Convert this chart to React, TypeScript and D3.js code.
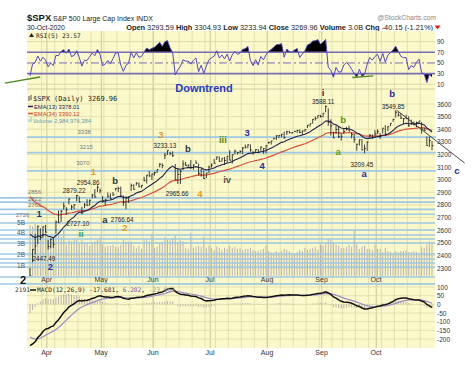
import React from "react";
import * as d3 from "d3";

// closes before the visible window, only used to warm up EMA / RSI / MACD
const warmupCloses = [
  3257.85, 3234.85, 3246.28, 3237.18, 3253.05, 3274.7, 3265.35, 3288.13, 3283.15, 3289.29, 3316.81,
  3329.62, 3320.79, 3321.75, 3325.54, 3295.47, 3243.63, 3276.24, 3273.4, 3283.66, 3225.52,
  3248.92, 3297.59, 3334.69, 3345.78, 3327.71, 3352.09, 3357.75, 3379.45, 3373.94, 3380.16,
  3370.29, 3386.15, 3373.23, 3337.75, 3225.89, 3128.21, 3116.39, 2978.76, 2954.22,
  3090.23, 3003.37, 3130.12, 3023.94, 2972.37, 2746.56, 2882.23, 2741.38, 2480.64, 2711.02,
  2386.13, 2529.19, 2398.1, 2409.39, 2304.92,
];

// daily $SPX, 23-Mar-2020 .. 30-Oct-2020
const closes = [
  2237.4, 2447.33, 2475.56, 2630.07, 2541.47, 2626.65, 2584.59,
  2470.5, 2526.9, 2488.65, 2663.68, 2659.41, 2749.98, 2789.82, 2761.63, 2846.06, 2783.36, 2799.55,
  2874.56, 2823.16, 2736.56, 2799.31, 2797.8, 2836.74, 2878.48, 2863.39, 2939.51, 2912.43,
  2830.71, 2842.74, 2868.44, 2848.42, 2881.19, 2929.8, 2930.32, 2870.12, 2820.0, 2852.5,
  2863.7, 2953.91, 2922.94, 2971.61, 2948.51, 2955.45, 2991.77, 3036.13, 3029.73, 3044.31,
  3055.73, 3080.82, 3122.87, 3112.35, 3193.93, 3232.39, 3207.18, 3190.14, 3002.1, 3041.31, 3066.59,
  3124.74, 3113.49, 3115.34, 3097.74, 3117.86, 3131.29, 3050.33, 3083.76, 3009.05, 3053.24, 3100.29,
  3115.86, 3130.01, 3179.72, 3145.32, 3169.94, 3152.05, 3185.04, 3155.22, 3197.52, 3226.56, 3215.57,
  3224.73, 3251.84, 3257.3, 3276.02, 3235.66, 3215.63, 3239.41, 3218.44, 3258.44, 3246.22, 3271.12,
  3294.61, 3306.51, 3327.77, 3349.16, 3351.28, 3360.47, 3333.69, 3380.35, 3373.43, 3372.85, 3381.99,
  3389.78, 3374.85, 3385.51, 3397.16, 3431.28, 3443.62, 3478.73, 3484.55, 3508.01, 3500.31,
  3526.65, 3580.84, 3455.06, 3426.96, 3331.84, 3398.96, 3339.19, 3340.97, 3383.54, 3401.2, 3385.49,
  3357.01, 3319.47, 3281.06, 3315.57, 3236.92, 3246.59, 3298.46, 3351.6, 3335.47, 3363.0,
  3380.8, 3348.42, 3408.6, 3360.97, 3419.44, 3446.83, 3477.14, 3534.22, 3511.93, 3488.67, 3483.34,
  3483.81, 3426.92, 3443.12, 3435.56, 3453.49, 3465.39, 3400.97, 3390.68, 3271.03, 3310.11, 3269.96,
];

const highs = [
  2300, 2450, 2571, 2637, 2615, 2631, 2641,
  2523, 2533, 2538, 2676, 2756, 2760, 2819, 2783, 2852, 2801, 2807, 2879, 2868, 2785, 2815, 2845, 2842, 2887, 2925, 2955, 2930,
  2870, 2844, 2898, 2891, 2902, 2933, 2945, 2945, 2875, 2853, 2865, 2969, 2964, 2980, 2978, 2957, 3022, 3037, 3068, 3050,
  3063, 3082, 3131, 3129, 3212, 3233, 3222, 3224, 3124, 3089, 3079, 3153, 3141, 3120, 3156, 3120, 3154, 3128, 3086, 3073, 3054, 3112,
  3129, 3165, 3184, 3184, 3170, 3180, 3186, 3235, 3200, 3239, 3221, 3233, 3259, 3278, 3280, 3280, 3228, 3242, 3243, 3264, 3250, 3273,
  3302, 3307, 3331, 3352, 3353, 3363, 3381, 3387, 3388, 3376, 3388, 3396, 3399, 3391, 3399, 3433, 3444, 3481, 3501, 3509, 3514,
  3528, 3588, 3565, 3479, 3380, 3425, 3425, 3368, 3402, 3419, 3428, 3375, 3363, 3286, 3320, 3323, 3279, 3306, 3361, 3358, 3393,
  3398, 3370, 3409, 3432, 3426, 3447, 3483, 3550, 3535, 3527, 3489, 3515, 3502, 3476, 3461, 3461, 3466, 3457, 3412, 3342, 3342, 3305,
];

const lows = [
  2192, 2345, 2407, 2489, 2521, 2541, 2581,
  2447, 2456, 2460, 2574, 2657, 2664, 2762, 2721, 2805, 2761, 2764, 2830, 2820, 2727, 2775, 2790, 2794, 2852, 2857, 2901, 2892,
  2817, 2798, 2856, 2844, 2872, 2913, 2903, 2869, 2793, 2767, 2816, 2910, 2922, 2954, 2938, 2933, 2987, 2970, 3023, 2998,
  3032, 3052, 3098, 3090, 3163, 3196, 3193, 3181, 2999, 2966, 2966, 3076, 3109, 3094, 3084, 3079, 3127, 3033, 3024, 3005, 3013, 3048,
  3096, 3125, 3156, 3142, 3142, 3116, 3136, 3153, 3128, 3200, 3199, 3206, 3202, 3247, 3250, 3221, 3198, 3217, 3216, 3228, 3205, 3209,
  3285, 3278, 3317, 3315, 3329, 3336, 3323, 3355, 3368, 3362, 3379, 3370, 3369, 3354, 3379, 3411, 3421, 3445, 3469, 3484, 3494,
  3494, 3535, 3428, 3350, 3330, 3365, 3330, 3310, 3363, 3389, 3385, 3328, 3293, 3229, 3271, 3232, 3209, 3228, 3333, 3327, 3335,
  3361, 3324, 3367, 3354, 3385, 3424, 3458, 3493, 3500, 3481, 3441, 3482, 3419, 3435, 3431, 3416, 3441, 3365, 3387, 3269, 3260, 3234,
];

// volume, billions
const volumes = [
  4.7, 4.6, 4.8, 4.4, 3.9, 3.7, 4.1,
  3.6, 3.8, 3.4, 4.0, 4.1, 3.6, 4.3, 2.9, 3.3, 3.2, 3.4, 3.4, 3.0, 3.3, 3.0, 3.1, 2.8, 3.0, 3.2, 3.4, 3.6,
  2.9, 2.7, 2.8, 2.8, 2.9, 2.7, 2.7, 2.9, 3.4, 3.2, 3.2, 3.2, 2.8, 2.6, 2.8, 2.5, 3.3, 3.4, 3.2, 3.9,
  2.6, 2.7, 3.0, 3.1, 3.6, 3.4, 3.3, 3.5, 3.8, 3.1, 3.3, 3.2, 2.6, 2.5, 4.0, 2.6, 2.7, 2.8, 2.7, 3.6, 2.6, 2.8,
  2.6, 2.4, 2.7, 2.6, 2.4, 2.6, 2.5, 2.8, 2.6, 2.7, 2.5, 2.6, 2.4, 2.5, 2.5, 2.6, 2.4, 2.3, 2.3, 2.4, 2.5, 2.8,
  2.3, 2.2, 2.2, 2.3, 2.2, 2.3, 2.5, 2.4, 2.3, 2.1, 2.0, 2.2, 2.4, 2.3, 2.6, 2.4, 2.5, 2.6, 2.7, 2.4, 2.9,
  2.8, 3.1, 3.5, 3.4, 3.1, 2.9, 2.8, 2.6, 2.6, 2.7, 2.9, 2.7, 4.3, 2.9, 2.5, 2.7, 2.8, 2.5, 2.5, 2.4, 2.9,
  2.5, 2.5, 2.2, 2.6, 2.3, 2.2, 2.1, 2.3, 2.2, 2.3, 2.3, 2.4, 2.2, 2.2, 2.3, 2.2, 2.1, 2.7, 2.6, 2.9, 3.2, 3.0,
];

const holidays = ["2020-04-10", "2020-05-25", "2020-07-03", "2020-09-07"];
const monthNames = ["Jan", "Feb", "Mar", "Apr", "May", "Jun", "Jul", "Aug", "Sep", "Oct", "Nov", "Dec"];

const priceTicks = [2300, 2400, 2500, 2600, 2700, 2800, 2900, 3000, 3100, 3200, 3300, 3400, 3500, 3600];
const rsiTicks = [10, 30, 50, 70, 90];
const macdTicks = [100, 50, 0, -50, -100, -150, -200];
const volTicks = [1, 2, 3, 4, 5];

// hand drawn support / resistance lines
const upperLevels = [3338, 3215, 3070];
const lowerLevels = [2856, 2822, 2765, 2726, 2657, 2601, 2562, 2530, 2498, 2411, 2371, 2340, 2308, 2229, 2173];
// [text, day, price of the text baseline]
const levelLabels: [string, number, number][] = [
  ["3338", 18.3, 3366], ["3215", 19.1, 3247], ["3070", 17.8, 3120],
  ["2856", -0.8, 2887], ["2822", -0.8, 2835], ["2765", -0.8, 2780], ["2726", -5.4, 2708],
];

// elliott wave counts: [text, day, price, colour]
const waveLabels: [string, number, number, string][] = [
  ["3", 50.5, 3365, "#e09a28"], ["1", 24.4, 3072, "#e09a28"], ["2", 36.6, 2628, "#e09a28"],
  ["4", 65.5, 2897, "#e09a28"], ["b", 32.8, 3000, "#333"], ["b", 60.9, 3254, "#333"],
  ["a", 28.9, 2691, "#333"], ["iii", 74.4, 3325, "#5a8a14"], ["iv", 76, 3008, "#555"],
  ["ii", 19.7, 2580, "#4aa040"], ["1", 3.5, 2739, "#1a3a7a"], ["2", 7.9, 2312, "#2a2a9a"],
  ["3", 83.7, 3381, "#2a2a9a"], ["4", 89.5, 3119, "#2a2a9a"], ["i", 113, 3698, "#333"],
  ["b", 120.7, 3484, "#5a9a14"], ["a", 118.8, 3230, "#5a9a14"], ["a", 128.8, 3056, "#2a2a9a"],
  ["b", 139.6, 3690, "#2a2a9a"], ["c", 164.6, 3080, "#2a2a9a"],
];

// high / low notes: [text, day, price]
const priceNotes: [string, number, number][] = [
  ["3588.11", 113, 3622], ["3209.45", 128, 3122], ["3549.85", 140, 3582], ["3233.13", 52, 3273],
  ["2965.66", 56.7, 2892], ["2954.86", 22.4, 2980], ["2879.22", 17, 2916], ["2727.10", 18.5, 2655],
  ["2766.64", 35.5, 2686], ["2447.49", 5.4, 2379],
];

// trend lines: [day0, value0, day1, value1]
const priceTrend = [141.3, 3552, 167.6, 3132];
const rsiTrends = [
  [-9.7, 12.4, 3.9, 23.7],
  [124.3, 22.7, 132.4, 25.7],
];

const fmt = d3.timeFormat("%Y-%m-%d");
const dates = d3.timeDay
  .range(new Date(2020, 2, 23), new Date(2020, 9, 31))
  .filter((d) => d.getDay() !== 0 && d.getDay() !== 6 && !holidays.includes(fmt(d)));

function ema(src: number[], n: number) {
  const k = 2 / (n + 1);
  const out: number[] = [];
  let prev = src[0];
  src.forEach((v, i) => {
    prev = i === 0 ? v : v * k + prev * (1 - k);
    out.push(prev);
  });
  return out;
}

function rsi(src: number[], n: number) {
  const out = src.map(() => NaN);
  let g = 0, l = 0;
  for (let i = 1; i <= n; i++) {
    const d = src[i] - src[i - 1];
    g += Math.max(d, 0);
    l += Math.max(-d, 0);
  }
  g /= n; l /= n;
  out[n] = 100 - 100 / (1 + g / l);
  for (let i = n + 1; i < src.length; i++) {
    const d = src[i] - src[i - 1];
    g = (g * (n - 1) + Math.max(d, 0)) / n;
    l = (l * (n - 1) + Math.max(-d, 0)) / n;
    out[i] = 100 - 100 / (1 + g / l);
  }
  return out;
}

const all = [...warmupCloses, ...closes];
const skip = warmupCloses.length;
const ema13 = ema(all, 13).slice(skip);
const ema34 = ema(all, 34).slice(skip);
const ema12All = ema(all, 12);
const ema26All = ema(all, 26);
const macdAll = ema12All.map((v, i) => v - ema26All[i]);
const signalAll = ema(macdAll, 9);
const macd = macdAll.slice(skip);
const signal = signalAll.slice(skip);
const hist = macd.map((v, i) => v - signal[i]);
const rsi5 = rsi(all, 5).slice(skip);

const LEFT = 27, RIGHT = 435;
const rsiPanel = { top: 31, bottom: 89 };
const pricePanel = { top: 89, bottom: 276 };
const macdPanel = { top: 284, bottom: 348 };

const x = d3.scaleLinear().domain([0, closes.length - 1]).range([30, 432]);
const rsiY = d3.scaleLinear().domain([10, 90]).range([84.3, 41.6]);
const priceY = d3.scaleLinear().domain([2300, 3600]).range([268, 104]);
const volY = d3.scaleLinear().domain([0, 5]).range([275.8, 222]);
const macdY = d3.scaleLinear().domain([-200, 100]).range([339, 287]);

const monthStarts = dates.map((d, i) => i).filter((i) => i > 0 && dates[i].getMonth() !== dates[i - 1].getMonth());
const weekStarts = dates.map((d, i) => i).filter((i) => i > 0 && dates[i].getDay() < dates[i - 1].getDay());

const sans = "Liberation Sans, Arial, sans-serif";
const mono = "DejaVu Sans Mono, monospace";
const bg = "#fbf8cb";
const grid = "#dedaa8";
const monthGrid = "#cdc995";
const levelBlue = "#9ec9e2";

const App = () => {
  const line = (ys: number[], y: d3.ScaleLinear<number, number>) =>
    d3.line<number>().x((d, i) => x(i)).y((d) => y(d)).defined((d) => !isNaN(d))(ys) || "";
  const area70 = d3.area<number>().x((d, i) => x(i)).y0(rsiY(70)).y1((d) => rsiY(d))(rsi5) || "";
  const area30 = d3.area<number>().x((d, i) => x(i)).y0(rsiY(30)).y1((d) => rsiY(d))(rsi5) || "";

  const vGrid = (top: number, bottom: number) => (
    <g>
      {weekStarts.map((i) => (
        <line key={"w" + i} x1={x(i) - 1.3} x2={x(i) - 1.3} y1={top} y2={bottom} stroke={grid} strokeWidth={0.8} />
      ))}
      {monthStarts.map((i) => (
        <line key={"m" + i} x1={x(i) - 1.3} x2={x(i) - 1.3} y1={top} y2={bottom} stroke={monthGrid} strokeWidth={1} />
      ))}
    </g>
  );

  const monthLabels = (y: number) =>
    monthStarts.map((i) => (
      <text key={"ml" + i} x={x(i) - 1.5} y={y} fontSize={7} fontFamily={sans} fill="#333" textAnchor="middle">
        {monthNames[dates[i].getMonth()]}
      </text>
    ));

  return (
    <svg width={474} height={366} style={{ position: "fixed", left: 0, top: 0, background: "#fff" }}>
      <defs>
        <clipPath id="clipPrice">
          <rect x={LEFT} y={pricePanel.top} width={RIGHT - LEFT} height={pricePanel.bottom - pricePanel.top} />
        </clipPath>
        <clipPath id="clipMacd">
          <rect x={LEFT} y={macdPanel.top} width={RIGHT - LEFT} height={macdPanel.bottom - macdPanel.top} />
        </clipPath>
        <clipPath id="clipAbove70">
          <rect x={LEFT} y={rsiPanel.top} width={RIGHT - LEFT} height={rsiY(70) - rsiPanel.top} />
        </clipPath>
        <clipPath id="clipBelow30">
          <rect x={LEFT} y={rsiY(30)} width={RIGHT - LEFT} height={rsiPanel.bottom - rsiY(30)} />
        </clipPath>
      </defs>

      {/* header */}
      <text x={27} y={21} fontFamily={sans} fontSize={9.5} fontWeight="bold" fill="#111">$SPX</text>
      <text x={53} y={21} fontFamily={sans} fontSize={7} fill="#222">S&amp;P 500 Large Cap Index INDX</text>
      <text x={27} y={29.5} fontFamily={sans} fontSize={6.8} fill="#222">30-Oct-2020</text>
      <text x={436} y={20} fontFamily={sans} fontSize={6.8} fill="#888" textAnchor="end">@StockCharts.com</text>
      <text x={433} y={29.5} fontFamily={sans} fontSize={7.4} fill="#222" textAnchor="end">
        <tspan fontWeight="bold">Open</tspan> 3293.59 <tspan fontWeight="bold">High</tspan> 3304.93{" "}
        <tspan fontWeight="bold">Low</tspan> 3233.94 <tspan fontWeight="bold">Close</tspan> 3269.96{" "}
        <tspan fontWeight="bold">Volume</tspan> 3.0B <tspan fontWeight="bold">Chg</tspan> -40.15 (-1.21%)
      </text>
      <path d="M434.5,25.5 L440.5,25.5 L437.5,29.5 Z" fill="#d22" />

      {/* RSI panel */}
      <rect x={LEFT} y={rsiPanel.top} width={RIGHT - LEFT} height={rsiPanel.bottom - rsiPanel.top} fill={bg} />
      {vGrid(rsiPanel.top, rsiPanel.bottom)}
      {[10, 90].map((t) => (
        <line key={t} x1={LEFT} x2={RIGHT} y1={rsiY(t)} y2={rsiY(t)} stroke={grid} />
      ))}
      <path d={area70} fill="#000" clipPath="url(#clipAbove70)" />
      <path d={area30} fill="#000" clipPath="url(#clipBelow30)" />
      <line x1={LEFT} x2={RIGHT} y1={rsiY(70)} y2={rsiY(70)} stroke="#7a6cb4" strokeWidth={1.6} />
      <line x1={LEFT} x2={RIGHT} y1={rsiY(30)} y2={rsiY(30)} stroke="#7a6cb4" strokeWidth={1.6} />
      <line x1={LEFT} x2={RIGHT} y1={rsiY(50)} y2={rsiY(50)} stroke="#7a6cb4" strokeWidth={1} strokeDasharray="8,3,2,3" />
      <path d={line(rsi5, rsiY)} fill="none" stroke="#5548c0" strokeWidth={1} />
      {rsiTicks.map((t) => (
        <text key={t} x={437} y={rsiY(t) + 2.5} fontFamily={sans} fontSize={6.5} fill="#333">{t}</text>
      ))}
      <path d="M29,37 L31.5,33 L34,37 Z" fill="#222" />
      <text x={36} y={37.5} fontFamily={mono} fontSize={6.2} fill="#222">RSI(5) 23.57</text>
      {rsiTrends.map((t, k) => (
        <line key={k} x1={x(t[0])} y1={rsiY(t[1])} x2={x(t[2])} y2={rsiY(t[3])} stroke="#4f8a24" strokeWidth={1.3} />
      ))}

      {/* price panel */}
      <rect x={LEFT} y={pricePanel.top} width={RIGHT - LEFT} height={macdPanel.top - pricePanel.top} fill={bg} />
      {vGrid(pricePanel.top, macdPanel.top)}
      {priceTicks.map((t) => (
        <line key={t} x1={LEFT} x2={RIGHT} y1={priceY(t)} y2={priceY(t)} stroke={grid} strokeWidth={0.8} />
      ))}
      <line x1={LEFT} x2={RIGHT} y1={pricePanel.top} y2={pricePanel.top} stroke="#c8c49a" strokeWidth={0.8} />

      {/* volume */}
      {volumes.map((v, i) => (
        <rect key={"v" + i} x={x(i) - 0.5} y={volY(v)} width={1} height={volY(0) - volY(v)} fill="#b4b4b0" />
      ))}

      {/* levels */}
      {upperLevels.map((p) => (
        <line key={p} x1={LEFT} x2={RIGHT + 1} y1={priceY(p)} y2={priceY(p)} stroke={levelBlue} strokeWidth={1.8} />
      ))}
      {lowerLevels.map((p) => (
        <line key={p} x1={0} x2={RIGHT} y1={priceY(p)} y2={priceY(p)} stroke={levelBlue} strokeWidth={1.6} />
      ))}
      {levelLabels.map(([t, d, p]) => (
        <text key={t} x={x(d)} y={priceY(p)} fontFamily={sans} fontSize={6} fill="#777">{t}</text>
      ))}

      {/* moving averages and bars */}
      <g clipPath="url(#clipPrice)">
        <path d={line(ema34, priceY)} fill="none" stroke="#d8503c" strokeWidth={1.2} />
        <path d={line(ema13, priceY)} fill="none" stroke="#23234e" strokeWidth={1.1} />
        {closes.map((c, i) => (
          <g key={"b" + i} stroke="#111" strokeWidth={0.8}>
            <line x1={x(i)} x2={x(i)} y1={priceY(highs[i])} y2={priceY(lows[i])} />
            <line x1={x(i)} x2={x(i) + 1.4} y1={priceY(c)} y2={priceY(c)} />
          </g>
        ))}
      </g>
      <line
        x1={x(priceTrend[0])} y1={priceY(priceTrend[1])} x2={x(priceTrend[2])} y2={priceY(priceTrend[3])}
        stroke="#333" strokeWidth={0.9}
      />

      {priceTicks.map((t) => (
        <text key={t} x={437} y={priceY(t) + 2.5} fontFamily={sans} fontSize={6.5} fill="#333">{t}</text>
      ))}
      {volTicks.map((t) => (
        <text key={t} x={17} y={volY(t) + 2.5} fontFamily={sans} fontSize={6.5} fill="#555">{t}B</text>
      ))}

      {/* legend */}
      <g stroke="#222" strokeWidth={0.8}>
        <line x1={29} x2={29} y1={96} y2={101} />
        <line x1={31} x2={31} y1={95} y2={100} />
      </g>
      <text x={33} y={101} fontFamily={mono} fontSize={7} fill="#222">$SPX (Daily) 3269.96</text>
      <line x1={28} x2={33} y1={106.5} y2={106.5} stroke="#23234e" strokeWidth={1.5} />
      <text x={34} y={108.5} fontFamily={sans} fontSize={5.8} fill="#23234e">EMA(13) 3378.01</text>
      <line x1={28} x2={33} y1={113.5} y2={113.5} stroke="#d8503c" strokeWidth={1.5} />
      <text x={34} y={115.5} fontFamily={sans} fontSize={5.8} fill="#c8402c">EMA(34) 3390.12</text>
      <g stroke="#7ab0c0" strokeWidth={0.8}>
        <line x1={29} x2={29} y1={119} y2={122} />
        <line x1={31} x2={31} y1={117} y2={122} />
      </g>
      <text x={33} y={122.5} fontFamily={sans} fontSize={5.8} fill="#5aa0b4">Volume 2,984,976,384</text>

      {/* notes */}
      {priceNotes.map(([t, d, p]) => (
        <text key={t} x={x(d)} y={priceY(p) + 2.5} fontFamily={sans} fontSize={6.3} fill="#222" textAnchor="middle">{t}</text>
      ))}
      {waveLabels.map(([t, d, p, c], k) => (
        <text key={"wl" + k} x={x(d)} y={priceY(p) + 4} fontFamily={sans} fontSize={9.5} fontWeight="bold" fill={c} textAnchor="middle">{t}</text>
      ))}
      <text x={204} y={92} fontFamily={sans} fontSize={11} fontWeight="bold" fill="#1f3cc0" textAnchor="middle">Downtrend</text>

      {/* date strip */}
      {monthLabels(282)}
      <text x={23} y={284} fontFamily={sans} fontSize={11} fontWeight="bold" fill="#111" textAnchor="middle">2</text>

      {/* MACD panel */}
      <rect x={LEFT} y={macdPanel.top} width={RIGHT - LEFT} height={macdPanel.bottom - macdPanel.top} fill={bg} />
      {vGrid(macdPanel.top, macdPanel.bottom)}
      {macdTicks.map((t) => (
        <line key={t} x1={LEFT} x2={RIGHT} y1={macdY(t)} y2={macdY(t)} stroke={grid} strokeWidth={0.8} />
      ))}
      <line x1={LEFT} x2={RIGHT} y1={macdPanel.top} y2={macdPanel.top} stroke={levelBlue} strokeWidth={1.6} />
      <g clipPath="url(#clipMacd)">
        {hist.map((h, i) => (
          <line key={"h" + i} x1={x(i)} x2={x(i)} y1={macdY(0)} y2={macdY(h)} stroke="#a2a2a2" strokeWidth={0.8} />
        ))}
        <path d={line(signal, macdY)} fill="none" stroke="#9a8cc4" strokeWidth={1.2} />
        <path d={line(macd, macdY)} fill="none" stroke="#111" strokeWidth={1.5} />
      </g>
      {macdTicks.map((t) => (
        <text key={t} x={437} y={macdY(t) + 2.5} fontFamily={sans} fontSize={6.5} fill="#333">{t}</text>
      ))}
      <text x={15} y={292} fontFamily={mono} fontSize={6.2} fill="#333">2191</text>
      <line x1={30} x2={36} y1={290} y2={290} stroke="#111" strokeWidth={1.5} />
      <text x={37} y={292} fontFamily={mono} fontSize={6.2} fill="#222">
        MACD(12,26,9) -17.681, <tspan fill="#6a5ab0">6.282</tspan>, <tspan fill="#999">-23.963</tspan>
      </text>
      {monthLabels(355)}
    </svg>
  );
};

export default App;
